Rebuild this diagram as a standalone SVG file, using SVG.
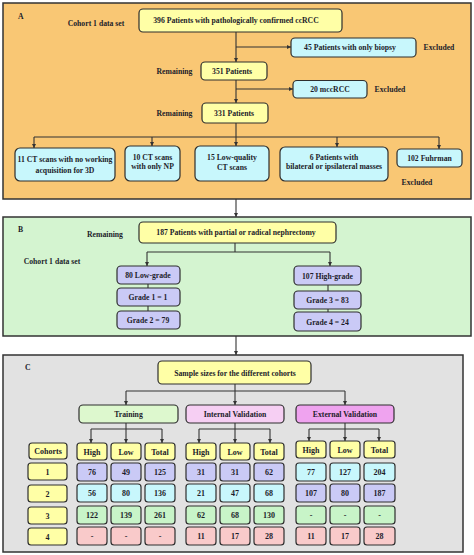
<svg xmlns="http://www.w3.org/2000/svg" width="474" height="555" viewBox="0 0 474 555">
<defs>
<style>
text{font-family:"Liberation Serif","Times New Roman",serif;font-weight:bold;font-size:7.7px;fill:#1c1c2a;text-anchor:middle}
.l{text-anchor:start}
.t{font-size:8px}
.panel{stroke:#333;stroke-width:1.5}
.bx{stroke:#2e2e2e;stroke-width:1.2}
.y{fill:#FFFFA6}.c{fill:#C8F7FC}.v{fill:#CACAF6}.g{fill:#C8F4C8}.p{fill:#F9CACA}
.tr{fill:#DDF8CE}.iv{fill:#F6CFF3}.ev{fill:#EFA3EF}
.ln{fill:none;stroke:#333;stroke-width:1.1}
.ar{fill:none;stroke:#333;stroke-width:1.1;marker-end:url(#ah)}
</style>
<marker id="ah" viewBox="0 0 6 6" refX="6" refY="3" markerWidth="4" markerHeight="4" markerUnits="userSpaceOnUse" orient="auto"><path d="M0,0 L6,3 L0,6 z" fill="#333"/></marker>
</defs>
<rect width="474" height="555" fill="#fff"/>

<g id="panelA">
<rect class="panel" x="3" y="3" width="468" height="196" fill="#F9C774"/>
<text class="l" x="18" y="19">A</text>
<text x="96" y="25.5">Cohort 1 data set</text>
<text x="174.5" y="73.5">Remaining</text>
<text x="174.5" y="115.5">Remaining</text>
<text x="439" y="49.5">Excluded</text>
<text x="390" y="91.5">Excluded</text>
<text x="417" y="184.5">Excluded</text>
</g>
<g id="panelB">
<rect class="panel" x="3" y="217" width="468" height="119" fill="#D4F4D0"/>
<text class="l" x="18" y="232">B</text>
<text x="105" y="236.5">Remaining</text>
<text x="52" y="264">Cohort 1 data set</text>
</g>
<g id="panelC">
<rect class="panel" x="3" y="355" width="460" height="197" fill="#E2E2E2"/>
<text class="l" x="25" y="370">C</text>
</g>

<g id="connectors">
<path class="ar" d="M236,32 V62"/><path class="ar" d="M236,47 H291"/>
<path class="ar" d="M236,80 V103"/><path class="ar" d="M236,89 H293"/>
<path class="ln" d="M236,123 V137 M34,137 H439"/>
<path class="ar" d="M34,137 V148"/><path class="ar" d="M152,137 V146"/><path class="ar" d="M236,137 V146"/><path class="ar" d="M337,137 V147"/><path class="ar" d="M439,137 V149"/>
<path class="ar" d="M236,199 V217"/>
<path class="ln" d="M235,243 V252 M147,252 H330"/>
<path class="ar" d="M147,252 V266"/><path class="ar" d="M330,252 V266"/>
<path class="ln" d="M148,284 V288 M148,306 V311 M328,285 V291 M328,309 V312"/>
<path class="ar" d="M236,336 V355"/>
<path class="ln" d="M235,384 V391 M126,391 H345"/>
<path class="ar" d="M126,391 V405"/><path class="ar" d="M235,391 V405"/><path class="ar" d="M345,391 V405"/>
<path class="ln" d="M126,423 V429 M91,429 H162 M235,423 V429 M199,429 H270 M345,423 V429 M309,429 H379"/>
<path class="ar" d="M91,429 V443"/><path class="ar" d="M126,429 V443"/><path class="ar" d="M162,429 V443"/>
<path class="ar" d="M199,429 V443"/><path class="ar" d="M235,429 V443"/><path class="ar" d="M270,429 V443"/>
<path class="ar" d="M309,429 V441"/><path class="ar" d="M345,429 V441"/><path class="ar" d="M379,429 V441"/>
</g>

<g id="n396"><rect class="bx y" x="139" y="9" width="203" height="23" rx="4"/><text x="236" y="23">396 Patients with pathologically confirmed ccRCC</text></g>
<g id="n45"><rect class="bx c" x="291" y="38" width="125" height="19" rx="4"/><text x="350" y="50">45 Patients with only biopsy</text></g>
<g id="n351"><rect class="bx y" x="201" y="62" width="66" height="18" rx="4"/><text x="232" y="74">351 Patients</text></g>
<g id="n20"><rect class="bx c" x="293" y="80.5" width="74" height="17.5" rx="4"/><text x="330" y="92">20 mccRCC</text></g>
<g id="n331"><rect class="bx y" x="202" y="103" width="66" height="20" rx="4"/><text x="234" y="116">331 Patients</text></g>
<g id="n11"><rect class="bx c" x="15" y="148" width="100" height="33" rx="5"/><text x="65" y="162">11 CT scans with no working</text><text x="65" y="172.5">acquisition for 3D</text></g>
<g id="n10"><rect class="bx c" x="125" y="146" width="55" height="35" rx="5"/><text x="152.5" y="159.5">10 CT scans</text><text x="152.5" y="169">with only NP</text></g>
<g id="n15"><rect class="bx c" x="195" y="146" width="74" height="35" rx="5"/><text x="232" y="160">15 Low-quality</text><text x="232" y="170">CT scans</text></g>
<g id="n6"><rect class="bx c" x="280" y="147" width="108" height="34" rx="5"/><text x="334" y="159.5">6 Patients with</text><text x="334" y="169">bilateral or ipsilateral masses</text></g>
<g id="n102"><rect class="bx c" x="397" y="149" width="65" height="18" rx="4"/><text x="429.5" y="161">102 Fuhrman</text></g>

<g id="n187"><rect class="bx y" x="139" y="222" width="197" height="21" rx="4"/><text x="236" y="235">187 Patients with partial or radical nephrectomy</text></g>
<g id="nLow"><rect class="bx v" x="117" y="266" width="63" height="18" rx="4"/><text x="148" y="278">80 Low-grade</text></g>
<g id="nG1"><rect class="bx v" x="117" y="288" width="63" height="18" rx="4"/><text x="148" y="300">Grade 1 = 1</text></g>
<g id="nG2"><rect class="bx v" x="117" y="311" width="63" height="18" rx="4"/><text x="148" y="323">Grade 2 = 79</text></g>
<g id="nHigh"><rect class="bx v" x="294" y="266" width="67" height="19" rx="4"/><text x="327.5" y="278.5">107 High-grade</text></g>
<g id="nG3"><rect class="bx v" x="294" y="291" width="67" height="18" rx="4"/><text x="327.5" y="303">Grade 3 = 83</text></g>
<g id="nG4"><rect class="bx v" x="294" y="312" width="67" height="19" rx="4"/><text x="327.5" y="324.5">Grade 4 = 24</text></g>

<g id="nSample"><rect class="bx y" x="158" y="361" width="153" height="23" rx="4"/><text x="235" y="375.5">Sample sizes for the different cohorts</text></g>
<g id="nTraining"><rect class="bx tr" x="79" y="405" width="99" height="18" rx="4"/><text x="128.5" y="417">Training</text></g>
<g id="nInternal"><rect class="bx iv" x="186" y="405" width="98" height="18" rx="4"/><text x="235" y="417">Internal Validation</text></g>
<g id="nExternal"><rect class="bx ev" x="296" y="405" width="98" height="18" rx="4"/><text x="345" y="417">External Validation</text></g>

<g id="cohorts">
<rect class="bx y" x="29" y="443" width="38" height="16" rx="3"/><text class="t" x="48" y="454">Cohorts</text>
<rect class="bx y" x="28" y="463" width="39" height="17" rx="3"/><text class="t" x="47.5" y="474.5">1</text>
<rect class="bx y" x="28" y="485" width="39" height="17" rx="3"/><text class="t" x="47.5" y="496.5">2</text>
<rect class="bx y" x="28" y="507" width="39" height="17" rx="3"/><text class="t" x="47.5" y="518.5">3</text>
<rect class="bx y" x="28" y="528" width="39" height="17" rx="3"/><text class="t" x="47.5" y="539.5">4</text>
</g>
<g id="trainingTable">
<rect class="bx y" x="77" y="443" width="30" height="17" rx="3"/><text class="t" x="92" y="454.5">High</text>
<rect class="bx y" x="111" y="443" width="30" height="17" rx="3"/><text class="t" x="126" y="454.5">Low</text>
<rect class="bx y" x="145" y="443" width="30" height="17" rx="3"/><text class="t" x="160" y="454.5">Total</text>
<rect class="bx v" x="77" y="463" width="30" height="18" rx="3"/><text class="t" x="92" y="475">76</text>
<rect class="bx v" x="111" y="463" width="30" height="18" rx="3"/><text class="t" x="126" y="475">49</text>
<rect class="bx v" x="145" y="463" width="30" height="18" rx="3"/><text class="t" x="160" y="475">125</text>
<rect class="bx c" x="77" y="484" width="30" height="18" rx="3"/><text class="t" x="92" y="496">56</text>
<rect class="bx c" x="111" y="484" width="30" height="18" rx="3"/><text class="t" x="126" y="496">80</text>
<rect class="bx c" x="145" y="484" width="30" height="18" rx="3"/><text class="t" x="160" y="496">136</text>
<rect class="bx g" x="77" y="506" width="30" height="18" rx="3"/><text class="t" x="92" y="518">122</text>
<rect class="bx g" x="111" y="506" width="30" height="18" rx="3"/><text class="t" x="126" y="518">139</text>
<rect class="bx g" x="145" y="506" width="30" height="18" rx="3"/><text class="t" x="160" y="518">261</text>
<rect class="bx p" x="77" y="527" width="30" height="18" rx="3"/><text class="t" x="92" y="539">-</text>
<rect class="bx p" x="111" y="527" width="30" height="18" rx="3"/><text class="t" x="126" y="539">-</text>
<rect class="bx p" x="145" y="527" width="30" height="18" rx="3"/><text class="t" x="160" y="539">-</text>
</g>
<g id="internalTable">
<rect class="bx y" x="186" y="443" width="30" height="17" rx="3"/><text class="t" x="201" y="454.5">High</text>
<rect class="bx y" x="220" y="443" width="30" height="17" rx="3"/><text class="t" x="235" y="454.5">Low</text>
<rect class="bx y" x="254" y="443" width="30" height="17" rx="3"/><text class="t" x="269" y="454.5">Total</text>
<rect class="bx v" x="186" y="463" width="30" height="18" rx="3"/><text class="t" x="201" y="475">31</text>
<rect class="bx v" x="220" y="463" width="30" height="18" rx="3"/><text class="t" x="235" y="475">31</text>
<rect class="bx v" x="254" y="463" width="30" height="18" rx="3"/><text class="t" x="269" y="475">62</text>
<rect class="bx c" x="186" y="484" width="30" height="18" rx="3"/><text class="t" x="201" y="496">21</text>
<rect class="bx c" x="220" y="484" width="30" height="18" rx="3"/><text class="t" x="235" y="496">47</text>
<rect class="bx c" x="254" y="484" width="30" height="18" rx="3"/><text class="t" x="269" y="496">68</text>
<rect class="bx g" x="186" y="506" width="30" height="18" rx="3"/><text class="t" x="201" y="518">62</text>
<rect class="bx g" x="220" y="506" width="30" height="18" rx="3"/><text class="t" x="235" y="518">68</text>
<rect class="bx g" x="254" y="506" width="30" height="18" rx="3"/><text class="t" x="269" y="518">130</text>
<rect class="bx p" x="186" y="527" width="30" height="18" rx="3"/><text class="t" x="201" y="539">11</text>
<rect class="bx p" x="220" y="527" width="30" height="18" rx="3"/><text class="t" x="235" y="539">17</text>
<rect class="bx p" x="254" y="527" width="30" height="18" rx="3"/><text class="t" x="269" y="539">28</text>
</g>
<g id="externalTable">
<rect class="bx y" x="296" y="441" width="30" height="17" rx="3"/><text class="t" x="311" y="452.5">High</text>
<rect class="bx y" x="330" y="441" width="30" height="17" rx="3"/><text class="t" x="345" y="452.5">Low</text>
<rect class="bx y" x="364" y="441" width="31" height="17" rx="3"/><text class="t" x="379.5" y="452.5">Total</text>
<rect class="bx c" x="296" y="463" width="30" height="18" rx="3"/><text class="t" x="311" y="474.5">77</text>
<rect class="bx c" x="330" y="463" width="30" height="18" rx="3"/><text class="t" x="345" y="474.5">127</text>
<rect class="bx c" x="364" y="463" width="31" height="18" rx="3"/><text class="t" x="379.5" y="474.5">204</text>
<rect class="bx v" x="296" y="484" width="30" height="18" rx="3"/><text class="t" x="311" y="495.5">107</text>
<rect class="bx v" x="330" y="484" width="30" height="18" rx="3"/><text class="t" x="345" y="495.5">80</text>
<rect class="bx v" x="364" y="484" width="31" height="18" rx="3"/><text class="t" x="379.5" y="495.5">187</text>
<rect class="bx g" x="296" y="506" width="30" height="18" rx="3"/><text class="t" x="311" y="517.5">-</text>
<rect class="bx g" x="330" y="506" width="30" height="18" rx="3"/><text class="t" x="345" y="517.5">-</text>
<rect class="bx g" x="364" y="506" width="31" height="18" rx="3"/><text class="t" x="379.5" y="517.5">-</text>
<rect class="bx p" x="296" y="527" width="30" height="18" rx="3"/><text class="t" x="311" y="538.5">11</text>
<rect class="bx p" x="330" y="527" width="30" height="18" rx="3"/><text class="t" x="345" y="538.5">17</text>
<rect class="bx p" x="364" y="527" width="31" height="18" rx="3"/><text class="t" x="379.5" y="538.5">28</text>
</g>
</svg>
